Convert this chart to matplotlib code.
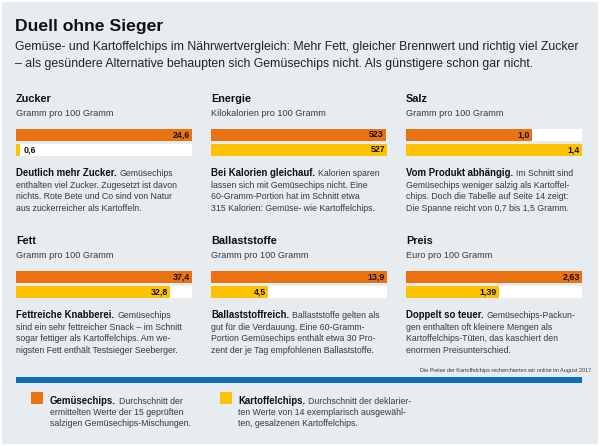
import matplotlib
matplotlib.use("Agg")
import matplotlib.pyplot as plt
from matplotlib.patches import Rectangle

plt.rcParams['font.family'] = ['Liberation Sans', 'DejaVu Sans']

W, H = 600, 446

# data
categories = ["Zucker", "Energie", "Salz", "Fett", "Ballaststoffe", "Preis"]
units = ["Gramm pro 100 Gramm", "Kilokalorien pro 100 Gramm", "Gramm pro 100 Gramm",
         "Gramm pro 100 Gramm", "Gramm pro 100 Gramm", "Euro pro 100 Gramm"]
gemuesechips = [24.6, 523, 1.0, 37.4, 13.9, 2.63]
kartoffelchips = [0.6, 527, 1.4, 32.8, 4.5, 1.39]
decimals = [1, 0, 1, 1, 1, 2]

leads = ["Deutlich mehr Zucker.", "Bei Kalorien gleichauf.", "Vom Produkt abhängig.",
         "Fettreiche Knabberei.", "Ballaststoffreich.", "Doppelt so teuer."]
bodies = [
    ["Gemüsechips", "enthalten viel Zucker. Zugesetzt ist davon",
     "nichts. Rote Bete und Co sind von Natur", "aus zuckerreicher als Kartoffeln."],
    ["Kalorien sparen", "lassen sich mit Gemüsechips nicht. Eine",
     "60-Gramm-Portion hat im Schnitt etwa", "315 Kalorien: Gemüse- wie Kartoffelchips."],
    ["Im Schnitt sind", "Gemüsechips weniger salzig als Kartoffel-",
     "chips. Doch die Tabelle auf Seite 14 zeigt:", "Die Spanne reicht von 0,7 bis 1,5 Gramm."],
    ["Gemüsechips", "sind ein sehr fettreicher Snack – im Schnitt",
     "sogar fettiger als Kartoffelchips. Am we-", "nigsten Fett enthält Testsieger Seeberger."],
    ["Ballaststoffe gelten als", "gut für die Verdauung. Eine 60-Gramm-",
     "Portion Gemüsechips enthält etwa 30 Pro-", "zent der je Tag empfohlenen Ballaststoffe."],
    ["Gemüsechips-Packun-", "gen enthalten oft kleinere Mengen als",
     "Kartoffelchips-Tüten, das kaschiert den", "enormen Preisunterschied."],
]

ORANGE = "#ea7210"
YELLOW = "#fdc300"
BG = "#e6ecef"
BLUE = "#0b6fc0"
TXT = "#3a3a3a"

fig = plt.figure(figsize=(W / 100, H / 100), dpi=100, facecolor="white")
fig.patches.append(Rectangle((2 / W, 2 / H), 1 - 4 / W, 1 - 4 / H, transform=fig.transFigure,
                             facecolor=BG, edgecolor="none", zorder=-10))
renderer = fig.canvas.get_renderer()


def ftext(x, y, s, **kw):
    kw.setdefault("va", "baseline")
    return fig.text(x / W, 1 - y / H, s, **kw)


def paragraph(x, y, lead, lines, lh=11.7, size=6.3):
    t = ftext(x, y, lead, fontsize=size + 0.6, fontweight="bold", color="#111111")
    x1 = t.get_window_extent(renderer).x1
    ftext(x1 + 3, y, lines[0], fontsize=size, color=TXT)
    for i, line in enumerate(lines[1:], start=1):
        ftext(x, y + i * lh, line, fontsize=size, color=TXT)


# title and intro
ftext(15, 31, "Duell ohne Sieger", fontsize=12.6, fontweight="bold", color="#111111")
ftext(15, 50, "Gemüse- und Kartoffelchips im Nährwertvergleich: Mehr Fett, gleicher Brennwert "
              "und richtig viel Zucker", fontsize=8.8, color="#222222")
ftext(15, 67, "– als gesündere Alternative behaupten sich Gemüsechips nicht. "
              "Als günstigere schon gar nicht.", fontsize=8.8, color="#222222")

col_x = [16, 211, 406]
row_dy = [0, 142]
bar_w = 176

for i, cat in enumerate(categories):
    x0 = col_x[i % 3]
    dy = row_dy[i // 3]
    ftext(x0, 102.5 + dy, cat, fontsize=7.8, fontweight="bold", color="#111111")
    ftext(x0, 115.5 + dy, units[i], fontsize=6.6, color=TXT)

    vals = [gemuesechips[i], kartoffelchips[i]]
    vmax = max(vals)
    ax = fig.add_axes([x0 / W, 1 - (157 + dy) / H, bar_w / W, 29 / H])
    ax.set_xlim(0, vmax)
    ax.set_ylim(-0.47, 1.45)
    ax.axis("off")
    ypos = [1, 0]
    ax.barh(ypos, [vmax, vmax], height=0.82, color="white", zorder=1)
    ax.barh(ypos, vals, height=0.82, color=[ORANGE, YELLOW], zorder=2)
    for v, yp in zip(vals, ypos):
        lab = f"{v:.{decimals[i]}f}".replace(".", ",")
        if v / vmax < 0.15:
            ax.annotate(lab, (v, yp), xytext=(2.2, 0), textcoords="offset points",
                        ha="left", va="center", fontsize=6.4, fontweight="bold", color="#111111")
        else:
            ax.annotate(lab, (v, yp), xytext=(-1.5, 0), textcoords="offset points",
                        ha="right", va="center", fontsize=6.4, fontweight="bold", color="#111111")

    paragraph(x0, 176 + dy, leads[i], bodies[i])

# footnote and separator
ftext(593, 372, "Die Preise der Kartoffelchips recherchierten wir online im August 2017.",
      fontsize=4.0, color=TXT, ha="right")
fig.patches.append(Rectangle((16 / W, 1 - 383 / H), 566 / W, 6 / H, transform=fig.transFigure,
                             facecolor=BLUE, edgecolor="none"))

# legend
fig.patches.append(Rectangle((31 / W, 1 - 404 / H), 12 / W, 12 / H, transform=fig.transFigure,
                             facecolor=ORANGE, edgecolor="none"))
fig.patches.append(Rectangle((220 / W, 1 - 404 / H), 12 / W, 12 / H, transform=fig.transFigure,
                             facecolor=YELLOW, edgecolor="none"))
paragraph(50, 404, "Gemüsechips.", ["Durchschnitt der", "ermittelten Werte der 15 geprüften",
                                    "salzigen Gemüsechips-Mischungen."], lh=11)
paragraph(238, 404, "Kartoffelchips.", ["Durchschnitt der deklarier-",
                                        "ten Werte von 14 exemplarisch ausgewähl-",
                                        "ten, gesalzenen Kartoffelchips."], lh=11)

fig.savefig("out.png", dpi=100, facecolor=fig.get_facecolor())
